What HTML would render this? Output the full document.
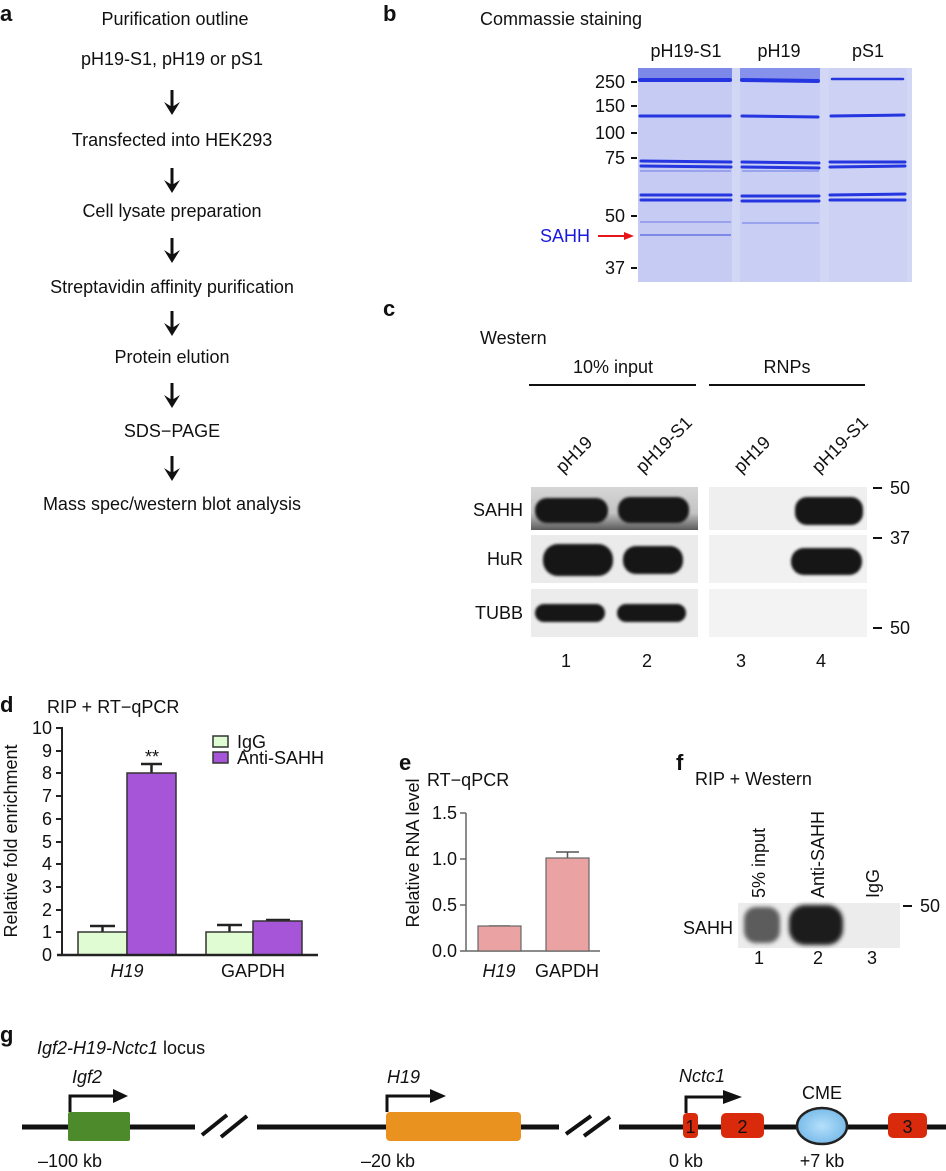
<!DOCTYPE html>
<html>
<head>
<meta charset="utf-8">
<style>
  html,body{margin:0;padding:0;background:#fff;}
  svg{display:block;}
  text{font-family:"Liberation Sans",Arial,sans-serif;font-size:18px;fill:#111;}
  .b{font-weight:bold;font-size:22px;}
  .i{font-style:italic;}
</style>
</head>
<body>
<svg width="946" height="1171" viewBox="0 0 946 1171" xmlns="http://www.w3.org/2000/svg">
<defs>
  <filter id="soft" x="-20%" y="-40%" width="140%" height="180%"><feGaussianBlur stdDeviation="1.2"/></filter>
  <filter id="soft2" x="-20%" y="-40%" width="140%" height="180%"><feGaussianBlur stdDeviation="2"/></filter>
  <linearGradient id="sahhbg" x1="0" y1="0" x2="0" y2="1">
    <stop offset="0" stop-color="#d6d6d6"/>
    <stop offset="0.6" stop-color="#c4c4c4"/>
    <stop offset="1" stop-color="#5a5a5a"/>
  </linearGradient>
  <radialGradient id="cme" cx="0.5" cy="0.5" r="0.6">
    <stop offset="0" stop-color="#b4e0fb"/>
    <stop offset="1" stop-color="#6fb4e6"/>
  </radialGradient>
</defs>
<rect width="946" height="1171" fill="#fff"/>

<!-- ===== Panel a ===== -->
<text class="b" x="0" y="21">a</text>
<g text-anchor="middle">
  <text x="175" y="25">Purification outline</text>
  <text x="172" y="65">pH19-S1, pH19 or pS1</text>
  <text x="172" y="146">Transfected into HEK293</text>
  <text x="172" y="217">Cell lysate preparation</text>
  <text x="172" y="293">Streptavidin affinity purification</text>
  <text x="172" y="363">Protein elution</text>
  <text x="172" y="437">SDS−PAGE</text>
  <text x="172" y="510">Mass spec/western blot analysis</text>
</g>
<g fill="#111">
  <rect x="170.5" y="90" width="3" height="18"/><polygon points="164,102 172,115 180,102 172,107"/>
  <rect x="170.5" y="168" width="3" height="18"/><polygon points="164,180 172,193 180,180 172,185"/>
  <rect x="170.5" y="238" width="3" height="18"/><polygon points="164,250 172,263 180,250 172,255"/>
  <rect x="170.5" y="311" width="3" height="18"/><polygon points="164,323 172,336 180,323 172,328"/>
  <rect x="170.5" y="383" width="3" height="18"/><polygon points="164,395 172,408 180,395 172,400"/>
  <rect x="170.5" y="456" width="3" height="18"/><polygon points="164,468 172,481 180,468 172,473"/>
</g>

<!-- ===== Panel b ===== -->
<text class="b" x="383" y="21">b</text>
<text x="480" y="25">Commassie staining</text>
<text x="686" y="57" text-anchor="middle">pH19-S1</text>
<text x="779" y="57" text-anchor="middle">pH19</text>
<text x="868" y="57" text-anchor="middle">pS1</text>
<!-- gel -->
<rect x="638" y="68" width="274" height="214" fill="#d3d7f6"/>
<rect x="638" y="68" width="94" height="214" fill="#c6cbf3"/>
<rect x="740" y="68" width="80" height="214" fill="#c9cef4"/>
<rect x="829" y="68" width="78" height="214" fill="#cdd2f5"/>
<rect x="638" y="68" width="94" height="13" fill="#7d89e8"/>
<rect x="740" y="68" width="80" height="13" fill="#8591ea"/>
<g stroke="#2535e0" stroke-linecap="round" fill="none">
  <line x1="640" y1="80" x2="730" y2="80" stroke-width="4"/>
  <line x1="742" y1="80" x2="818" y2="81" stroke-width="4"/>
  <line x1="832" y1="79" x2="903" y2="79" stroke-width="2.5"/>
  <line x1="640" y1="116" x2="730" y2="116" stroke-width="3"/>
  <line x1="742" y1="116" x2="818" y2="117" stroke-width="3"/>
  <line x1="831" y1="116" x2="904" y2="115" stroke-width="3"/>
  <line x1="641" y1="161" x2="731" y2="162" stroke-width="3"/>
  <line x1="641" y1="166" x2="731" y2="167" stroke-width="3"/>
  <line x1="742" y1="162" x2="819" y2="163" stroke-width="3"/>
  <line x1="742" y1="167" x2="819" y2="168" stroke-width="3"/>
  <line x1="830" y1="162" x2="905" y2="162" stroke-width="3"/>
  <line x1="830" y1="167" x2="905" y2="166" stroke-width="3"/>
  <line x1="641" y1="195" x2="731" y2="195" stroke-width="3"/>
  <line x1="641" y1="200" x2="731" y2="200" stroke-width="3"/>
  <line x1="742" y1="196" x2="819" y2="196" stroke-width="3"/>
  <line x1="742" y1="201" x2="819" y2="201" stroke-width="3"/>
  <line x1="830" y1="195" x2="905" y2="194" stroke-width="3"/>
  <line x1="830" y1="200" x2="905" y2="200" stroke-width="3"/>
</g>
<g stroke="#8b95ea" fill="none">
  <line x1="640" y1="171" x2="731" y2="171" stroke-width="1.5"/>
  <line x1="742" y1="171" x2="819" y2="171" stroke-width="1.5"/>
  <line x1="640" y1="222" x2="731" y2="222" stroke-width="1.5"/>
  <line x1="742" y1="223" x2="819" y2="223" stroke-width="1.5"/>
  <line x1="640" y1="235" x2="731" y2="235" stroke-width="2" stroke="#7f8ae8"/>
</g>
<g text-anchor="end">
  <text x="625" y="88">250</text>
  <text x="625" y="112">150</text>
  <text x="625" y="139">100</text>
  <text x="625" y="164">75</text>
  <text x="625" y="222">50</text>
  <text x="625" y="274">37</text>
</g>
<g stroke="#111" stroke-width="2">
  <line x1="631" y1="82" x2="637" y2="82"/>
  <line x1="631" y1="106" x2="637" y2="106"/>
  <line x1="631" y1="133" x2="637" y2="133"/>
  <line x1="631" y1="158" x2="637" y2="158"/>
  <line x1="631" y1="216" x2="637" y2="216"/>
  <line x1="631" y1="268" x2="637" y2="268"/>
</g>
<text x="540" y="242" style="fill:#1a1adc">SAHH</text>
<line x1="598" y1="236" x2="626" y2="236" stroke="#e8161a" stroke-width="2"/>
<polygon points="624,232 634,236 624,240" fill="#e8161a"/>

<!-- ===== Panel c ===== -->
<text class="b" x="383" y="316">c</text>
<text x="480" y="344">Western</text>
<text x="613" y="373" text-anchor="middle">10% input</text>
<text x="787" y="373" text-anchor="middle">RNPs</text>
<line x1="529" y1="385" x2="696" y2="385" stroke="#111" stroke-width="2"/>
<line x1="709" y1="385" x2="865" y2="385" stroke="#111" stroke-width="2"/>
<text transform="translate(563,474) rotate(-45)">pH19</text>
<text transform="translate(643,474) rotate(-45)">pH19-S1</text>
<text transform="translate(741,474) rotate(-45)">pH19</text>
<text transform="translate(819,474) rotate(-45)">pH19-S1</text>
<!-- blot boxes -->
<rect x="531" y="487" width="167" height="43" fill="url(#sahhbg)"/>
<rect x="709" y="487" width="158" height="43" fill="#efefef"/>
<rect x="531" y="535" width="167" height="48" fill="#ebebeb"/>
<rect x="709" y="535" width="158" height="48" fill="#f1f1f1"/>
<rect x="531" y="589" width="167" height="48" fill="#ececec"/>
<rect x="709" y="589" width="158" height="48" fill="#f3f3f3"/>
<g fill="#161616" filter="url(#soft)">
  <rect x="535" y="498" width="73" height="25" rx="12"/>
  <rect x="618" y="497" width="71" height="26" rx="12"/>
  <rect x="795" y="497" width="68" height="28" rx="12"/>
  <rect x="543" y="544" width="70" height="32" rx="15"/>
  <rect x="623" y="546" width="60" height="28" rx="13"/>
  <rect x="791" y="548" width="71" height="27" rx="13"/>
  <rect x="535" y="604" width="70" height="18" rx="9"/>
  <rect x="617" y="604" width="69" height="18" rx="9"/>
</g>
<g text-anchor="end">
  <text x="523" y="516">SAHH</text>
  <text x="523" y="565">HuR</text>
  <text x="523" y="619">TUBB</text>
</g>
<g stroke="#111" stroke-width="2">
  <line x1="873" y1="488" x2="882" y2="488"/>
  <line x1="873" y1="538" x2="882" y2="538"/>
  <line x1="873" y1="628" x2="882" y2="628"/>
</g>
<text x="890" y="494">50</text>
<text x="890" y="544">37</text>
<text x="890" y="634">50</text>
<g text-anchor="middle">
  <text x="566" y="667">1</text>
  <text x="647" y="667">2</text>
  <text x="741" y="667">3</text>
  <text x="821" y="667">4</text>
</g>

<!-- ===== Panel d ===== -->
<text class="b" x="0" y="712">d</text>
<text x="47" y="713">RIP + RT−qPCR</text>
<text transform="translate(17,841) rotate(-90)" text-anchor="middle">Relative fold enrichment</text>
<g text-anchor="end">
  <text x="52" y="734">10</text>
  <text x="52" y="757">9</text>
  <text x="52" y="779">8</text>
  <text x="52" y="802">7</text>
  <text x="52" y="825">6</text>
  <text x="52" y="848">5</text>
  <text x="52" y="870">4</text>
  <text x="52" y="893">3</text>
  <text x="52" y="916">2</text>
  <text x="52" y="938">1</text>
  <text x="52" y="961">0</text>
</g>
<g stroke="#222" stroke-width="2">
  <line x1="62" y1="727" x2="62" y2="955"/>
  <line x1="56" y1="728" x2="62" y2="728"/>
  <line x1="56" y1="751" x2="62" y2="751"/>
  <line x1="56" y1="773" x2="62" y2="773"/>
  <line x1="56" y1="796" x2="62" y2="796"/>
  <line x1="56" y1="819" x2="62" y2="819"/>
  <line x1="56" y1="842" x2="62" y2="842"/>
  <line x1="56" y1="864" x2="62" y2="864"/>
  <line x1="56" y1="887" x2="62" y2="887"/>
  <line x1="56" y1="910" x2="62" y2="910"/>
  <line x1="56" y1="932" x2="62" y2="932"/>
</g>
<!-- error bars -->
<g stroke="#222" stroke-width="2.5">
  <line x1="102.5" y1="932" x2="102.5" y2="926"/><line x1="90" y1="926" x2="115" y2="926"/>
  <line x1="151.5" y1="773" x2="151.5" y2="764"/><line x1="141" y1="764" x2="162" y2="764"/>
  <line x1="229.5" y1="932" x2="229.5" y2="925"/><line x1="217" y1="925" x2="242" y2="925"/>
  <line x1="266" y1="920" x2="290" y2="920"/>
</g>
<g stroke="#333" stroke-width="1.5">
  <rect x="78" y="932" width="49" height="23" fill="#e0fcd2"/>
  <rect x="127" y="773" width="49" height="182" fill="#a755d8"/>
  <rect x="206" y="932" width="47" height="23" fill="#e0fcd2"/>
  <rect x="253" y="921" width="49" height="34" fill="#a755d8"/>
</g>
<line x1="57" y1="955" x2="318" y2="955" stroke="#222" stroke-width="2.5"/>
<text x="152" y="763" text-anchor="middle">**</text>
<text x="127" y="977" text-anchor="middle" class="i">H19</text>
<text x="253" y="977" text-anchor="middle">GAPDH</text>
<rect x="213" y="736" width="15" height="11" fill="#e0fcd2" stroke="#333" stroke-width="1.5"/>
<rect x="213" y="752" width="15" height="11" fill="#a755d8" stroke="#333" stroke-width="1.5"/>
<text x="237" y="748">IgG</text>
<text x="237" y="764">Anti-SAHH</text>

<!-- ===== Panel e ===== -->
<text class="b" x="399" y="770">e</text>
<text x="427" y="786">RT−qPCR</text>
<text transform="translate(419,853) rotate(-90)" text-anchor="middle">Relative RNA level</text>
<g text-anchor="end">
  <text x="457" y="819">1.5</text>
  <text x="457" y="865">1.0</text>
  <text x="457" y="911">0.5</text>
  <text x="457" y="957">0.0</text>
</g>
<g stroke="#666" stroke-width="1.5">
  <line x1="466" y1="813" x2="466" y2="951"/>
  <line x1="460" y1="813" x2="466" y2="813"/>
  <line x1="460" y1="859" x2="466" y2="859"/>
  <line x1="460" y1="905" x2="466" y2="905"/>
  <line x1="460" y1="951" x2="466" y2="951"/>
  <line x1="466" y1="951" x2="600" y2="951"/>
</g>
<g stroke="#555" stroke-width="1.5">
  <line x1="567.5" y1="858" x2="567.5" y2="852"/><line x1="556" y1="852" x2="579" y2="852"/>
  <line x1="489" y1="926" x2="510" y2="926"/>
</g>
<rect x="478" y="926" width="43" height="25" fill="#eba2a2" stroke="#666" stroke-width="1.2"/>
<rect x="546" y="858" width="43" height="93" fill="#eba2a2" stroke="#666" stroke-width="1.2"/>
<text x="499" y="977" text-anchor="middle" class="i">H19</text>
<text x="567" y="977" text-anchor="middle">GAPDH</text>

<!-- ===== Panel f ===== -->
<text class="b" x="676" y="770">f</text>
<text x="695" y="785">RIP + Western</text>
<text transform="translate(765,898) rotate(-90)">5% input</text>
<text transform="translate(824,898) rotate(-90)">Anti-SAHH</text>
<text transform="translate(879,898) rotate(-90)">IgG</text>
<rect x="738" y="903" width="162" height="45" fill="#ececec"/>
<g filter="url(#soft2)">
  <rect x="744" y="907" width="36" height="36" rx="12" fill="#5c5c5c"/>
  <rect x="789" y="905" width="54" height="40" rx="16" fill="#1a1a1a"/>
</g>
<text x="733" y="934" text-anchor="end">SAHH</text>
<line x1="903" y1="906" x2="912" y2="906" stroke="#111" stroke-width="2"/>
<text x="920" y="912">50</text>
<g text-anchor="middle">
  <text x="759" y="964">1</text>
  <text x="818" y="964">2</text>
  <text x="872" y="964">3</text>
</g>

<!-- ===== Panel g ===== -->
<text class="b" x="0" y="1042">g</text>
<text x="37" y="1054"><tspan class="i">Igf2-H19-Nctc1</tspan> locus</text>
<text x="72" y="1083" class="i">Igf2</text>
<text x="387" y="1083" class="i">H19</text>
<text x="679" y="1082" class="i">Nctc1</text>
<!-- main line -->
<g stroke="#111" stroke-width="5">
  <line x1="22" y1="1127" x2="195" y2="1127"/>
  <line x1="257" y1="1127" x2="559" y2="1127"/>
  <line x1="619" y1="1127" x2="946" y2="1127"/>
</g>
<g stroke="#111" stroke-width="4">
  <line x1="202" y1="1135" x2="227" y2="1115"/>
  <line x1="221" y1="1137" x2="247" y2="1116"/>
  <line x1="566" y1="1134" x2="591" y2="1116"/>
  <line x1="584" y1="1136" x2="610" y2="1117"/>
</g>
<!-- genes -->
<rect x="68" y="1112" width="62" height="29" rx="2" fill="#4c8a2c"/>
<rect x="386" y="1112" width="135" height="29" rx="4" fill="#e9921f"/>
<rect x="683" y="1113" width="15" height="25" rx="4" fill="#da2a0c"/>
<rect x="721" y="1113" width="43" height="25" rx="5" fill="#da2a0c"/>
<rect x="888" y="1113" width="39" height="25" rx="5" fill="#da2a0c"/>
<ellipse cx="822" cy="1126" rx="25" ry="18" fill="url(#cme)" stroke="#222" stroke-width="2.5"/>
<g text-anchor="middle">
  <text x="690.5" y="1133">1</text>
  <text x="742.5" y="1133">2</text>
  <text x="907.5" y="1133">3</text>
  <text x="822" y="1099">CME</text>
  <text x="70" y="1167">–100 kb</text>
  <text x="388" y="1167">–20 kb</text>
  <text x="686" y="1167">0 kb</text>
  <text x="822" y="1167">+7 kb</text>
</g>
<!-- TSS arrows -->
<g stroke="#111" stroke-width="3" fill="none">
  <path d="M70,1112 V1096 H115"/>
  <path d="M387,1112 V1096 H432"/>
  <path d="M686,1113 V1097 H725"/>
</g>
<g fill="#111">
  <polygon points="113,1089 128,1096 113,1103"/>
  <polygon points="430,1089 446,1096 430,1103"/>
  <polygon points="723,1090 742,1097 723,1104"/>
</g>
</svg>
</body>
</html>
